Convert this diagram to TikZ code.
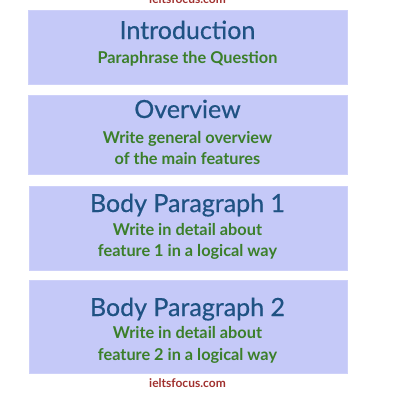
\documentclass[tikz,border=0pt]{standalone}
\usepackage{fontspec}
\setmainfont{Lato}
\newfontfamily\titlefont[FakeBold=0.5]{Lato}
\definecolor{boxfill}{HTML}{C5C9F8}
\definecolor{titleblue}{HTML}{1F5283}
\definecolor{subgreen}{HTML}{3B7F2A}
\definecolor{markred}{HTML}{A0302E}
\tikzset{
  box/.style={fill=boxfill, draw=boxfill!85!white, line width=0.6pt},
  ttl/.style={text=titleblue, font=\titlefont\fontsize{25}{28}\selectfont, inner sep=0pt, anchor=base},
  sub/.style={text=subgreen, font=\bfseries\fontsize{16.3}{20}\selectfont, inner sep=0pt, anchor=base, align=center},
  wmark/.style={text=markred, font=\bfseries\fontsize{12}{14}\selectfont, inner sep=0pt, anchor=base}
}
\begin{document}
\begin{tikzpicture}[x=1pt,y=-1pt]
\useasboundingbox (0,0) rectangle (400,400);
\clip (0,0) rectangle (400,400);
\filldraw[box] (28,10) rectangle (347,84);
\filldraw[box] (28,95) rectangle (347,174);
\filldraw[box] (29,186) rectangle (347,270);
\filldraw[box] (29,280) rectangle (347,373);
\node[wmark] (wtop) at (187.5,3) {ieltsfocus.com};
\node[ttl] (t1) at (187.5,39) {Introduction};
\node[sub] (s1) at (187.5,63) {Paraphrase the Question};
\node[ttl] (t2) at (187.5,118) {Overview};
\node[sub] (s2a) at (187.5,143) {Write general overview};
\node[sub] (s2b) at (187.5,164) {of the main features};
\node[ttl] (t3) at (187.5,212) {Body Paragraph 1};
\node[sub] (s3a) at (187.5,235) {Write in detail about};
\node[sub] (s3b) at (187.5,256) {feature 1 in a logical way};
\node[ttl] (t4) at (187.5,316) {Body Paragraph 2};
\node[sub] (s4a) at (187.5,338) {Write in detail about};
\node[sub] (s4b) at (187.5,360) {feature 2 in a logical way};
\node[wmark] (wbot) at (187.5,387) {ieltsfocus.com};
\end{tikzpicture}
\end{document}
